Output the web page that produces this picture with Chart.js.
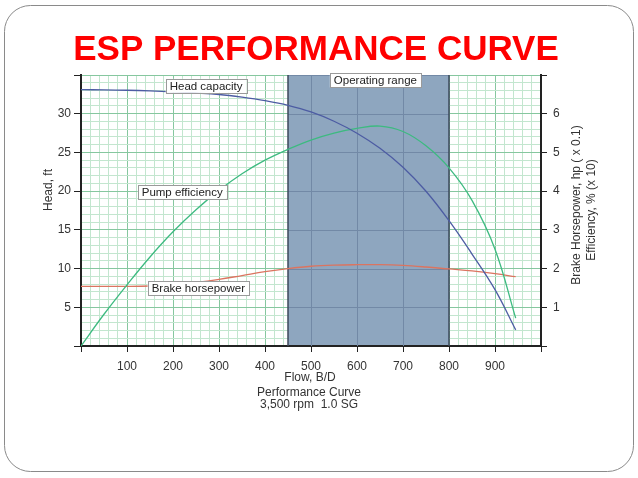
<!DOCTYPE html>
<html lang="en">
<head>
    <meta charset="UTF-8">
    <title>ESP Performance Curve</title>
    <script src="https://cdn.jsdelivr.net/npm/chart.js"></script>
    <style>
        body {
            margin: 0;
            padding: 0;
            background-color: #ffffff;
        }
        .slide {
            position: relative;
            width: 638px;
            height: 478px;
        }
    </style>
</head>
<body>
    <div class="slide">
        <canvas id="espChart" width="638" height="478"></canvas>
    </div>

    <script>
        // Flow points, B/D
        const flow = [0, 50, 100, 150, 200, 250, 300, 350, 400, 450, 500, 550, 600, 650, 700, 750, 800, 850, 900, 945];
        // Head, ft (left axis)
        const headFt = [33.1, 33.08, 33.03, 32.95, 32.83, 32.68, 32.48, 32.13, 31.68, 31.08, 30.23, 29.03, 27.48, 25.53, 23.08, 19.98, 16.18, 11.88, 7.28, 2.08];
        // Efficiency, % (x 10) (right axis)
        const efficiency = [0, 0.82, 1.58, 2.3, 2.95, 3.52, 4.02, 4.45, 4.8, 5.08, 5.32, 5.5, 5.62, 5.68, 5.54, 5.17, 4.6, 3.76, 2.5, 0.72];
        // Brake horsepower, hp (x 0.1) (right axis)
        const brakeHp = [1.54, 1.54, 1.54, 1.55, 1.58, 1.64, 1.72, 1.82, 1.92, 2.0, 2.06, 2.09, 2.1, 2.1, 2.08, 2.04, 1.99, 1.94, 1.87, 1.79];

        // Operating range, B/D
        const operatingRange = [450, 800];

        // Axis ranges and tick labels
        const flowLabels = [100, 200, 300, 400, 500, 600, 700, 800, 900];
        const headLabels = [5, 10, 15, 20, 25, 30];
        const rightLabels = [1, 2, 3, 4, 5, 6];

        // Curve captions: [text, flow, head]
        const captions = [
            ['Head capacity', 272, 33.6],
            ['Pump efficiency', 220, 19.9],
            ['Brake horsepower', 255, 7.45],
            ['Operating range', 640, 34.3]
        ];

        const FONT = '"Liberation Sans", Arial, sans-serif';
        const gridMajor = '#86c79f';
        const gridMinor = '#c3e6cf';

        const isMult = (v, m) => Math.abs(v / m - Math.round(v / m)) < 1e-6;

        const decor = {
            id: 'decor',
            beforeDatasetsDraw(chart) {
                const { ctx, chartArea: a, scales: { x, y } } = chart;
                const x0 = x.getPixelForValue(operatingRange[0]);
                const x1 = x.getPixelForValue(operatingRange[1]);
                ctx.save();
                ctx.fillStyle = '#8ea6bf';
                ctx.fillRect(x0, a.top, x1 - x0, a.bottom - a.top - 1);
                // major grid seen through the band
                ctx.strokeStyle = '#7289a6';
                ctx.lineWidth = 1;
                ctx.beginPath();
                for (let v = 500; v < operatingRange[1]; v += 100) {
                    const px = Math.round(x.getPixelForValue(v)) + 0.5;
                    ctx.moveTo(px, a.top);
                    ctx.lineTo(px, a.bottom);
                }
                for (let v = 5; v <= 35; v += 5) {
                    const py = Math.round(y.getPixelForValue(v)) + 0.5;
                    ctx.moveTo(x0, py);
                    ctx.lineTo(x1, py);
                }
                ctx.stroke();
                ctx.strokeStyle = '#3e4a5c';
                ctx.lineWidth = 1.5;
                ctx.beginPath();
                ctx.moveTo(x0, a.top);
                ctx.lineTo(x0, a.bottom);
                ctx.moveTo(x1, a.top);
                ctx.lineTo(x1, a.bottom);
                ctx.stroke();
                ctx.restore();
            },
            afterDatasetsDraw(chart) {
                const { ctx, scales: { x, y } } = chart;
                ctx.save();
                ctx.font = '11.5px ' + FONT;
                ctx.textAlign = 'center';
                ctx.textBaseline = 'middle';
                captions.forEach(([text, fx, fy]) => {
                    const cx = x.getPixelForValue(fx);
                    const cy = y.getPixelForValue(fy);
                    const w = ctx.measureText(text).width + 8;
                    const h = 14;
                    ctx.fillStyle = '#ffffff';
                    ctx.fillRect(cx - w / 2, cy - h / 2, w, h);
                    ctx.strokeStyle = '#9a9a9a';
                    ctx.lineWidth = 1;
                    ctx.strokeRect(Math.round(cx - w / 2) + 0.5, Math.round(cy - h / 2) + 0.5, Math.round(w), h);
                    ctx.fillStyle = '#222222';
                    ctx.fillText(text, cx, cy + 0.5);
                });
                ctx.restore();
            },
            afterDraw(chart) {
                const { ctx } = chart;
                ctx.save();
                // slide frame
                ctx.strokeStyle = '#8a8a8a';
                ctx.lineWidth = 1;
                ctx.beginPath();
                ctx.roundRect(4.5, 5.5, 629, 466, 26);
                ctx.stroke();

                // title
                ctx.fillStyle = '#ff0000';
                ctx.font = 'bold 35px ' + FONT;
                ctx.textAlign = 'center';
                ctx.textBaseline = 'alphabetic';
                ctx.fillText('ESP PERFORMANCE CURVE', 316, 60);

                // axis titles
                ctx.fillStyle = '#333333';
                ctx.font = '12px ' + FONT;
                ctx.textBaseline = 'middle';
                ctx.fillText('Flow, B/D', 310, 378);
                ctx.fillText('Performance Curve', 309, 393);
                ctx.fillText('3,500 rpm  1.0 SG', 309, 405);

                ctx.save();
                ctx.translate(49, 190);
                ctx.rotate(-Math.PI / 2);
                ctx.fillText('Head, ft', 0, 0);
                ctx.restore();

                ctx.save();
                ctx.translate(577, 205);
                ctx.rotate(-Math.PI / 2);
                ctx.fillText('Brake Horsepower, hp ( x 0.1)', 0, 0);
                ctx.restore();

                ctx.save();
                ctx.translate(592, 210);
                ctx.rotate(-Math.PI / 2);
                ctx.fillText('Efficiency, % (x 10)', 0, 0);
                ctx.restore();

                ctx.restore();
            }
        };

        const toPoints = (vals) => flow.map((f, i) => ({ x: f, y: vals[i] }));

        const espCtx = document.getElementById('espChart').getContext('2d');
        const espChart = new Chart(espCtx, {
            type: 'line',
            data: {
                datasets: [
                    {
                        label: 'Head capacity',
                        data: toPoints(headFt),
                        yAxisID: 'y',
                        borderColor: '#4d5ca3',
                        borderWidth: 1.3
                    },
                    {
                        label: 'Pump efficiency',
                        data: toPoints(efficiency),
                        yAxisID: 'y2',
                        borderColor: '#3dba80',
                        borderWidth: 1.3
                    },
                    {
                        label: 'Brake horsepower',
                        data: toPoints(brakeHp),
                        yAxisID: 'y2',
                        borderColor: '#db7460',
                        borderWidth: 1.3
                    }
                ]
            },
            options: {
                responsive: false,
                animation: false,
                layout: { padding: { top: 75, left: 0, right: 0, bottom: 0 } },
                elements: {
                    point: { radius: 0 },
                    line: { tension: 0.4 }
                },
                plugins: {
                    legend: { display: false },
                    tooltip: { enabled: false }
                },
                scales: {
                    x: {
                        type: 'linear',
                        min: 0,
                        max: 1000,
                        afterFit(s) { s.height = 132; },
                        border: { color: '#222222', width: 2 },
                        grid: {
                            color: (c) => isMult(c.tick.value, 100) ? gridMajor : gridMinor,
                            tickColor: (c) => isMult(c.tick.value, 100) ? '#222222' : 'rgba(0,0,0,0)',
                            tickLength: 6,
                            lineWidth: 1
                        },
                        ticks: {
                            stepSize: 20,
                            autoSkip: false,
                            maxRotation: 0,
                            padding: 7,
                            color: '#333333',
                            font: { family: FONT, size: 12 },
                            callback: (v) => flowLabels.includes(v) ? String(v) : ''
                        }
                    },
                    y: {
                        position: 'left',
                        min: 0,
                        max: 35,
                        afterFit(s) { s.width = 81; },
                        border: { color: '#222222', width: 2 },
                        grid: {
                            color: (c) => isMult(c.tick.value, 5) ? gridMajor : gridMinor,
                            tickColor: (c) => isMult(c.tick.value, 5) ? '#222222' : 'rgba(0,0,0,0)',
                            tickLength: 7,
                            lineWidth: 1
                        },
                        ticks: {
                            stepSize: 1,
                            autoSkip: false,
                            padding: 3,
                            color: '#333333',
                            font: { family: FONT, size: 12 },
                            callback: (v) => headLabels.includes(v) ? String(v) : ''
                        }
                    },
                    y2: {
                        position: 'right',
                        min: 0,
                        max: 7,
                        afterFit(s) { s.width = 97; },
                        border: { color: '#222222', width: 2 },
                        grid: {
                            drawOnChartArea: false,
                            tickColor: '#222222',
                            tickLength: 6
                        },
                        ticks: {
                            stepSize: 1,
                            padding: 6,
                            color: '#333333',
                            font: { family: FONT, size: 12 },
                            callback: (v) => rightLabels.includes(v) ? String(v) : ''
                        }
                    }
                }
            },
            plugins: [decor]
        });
    </script>
</body>
</html>
